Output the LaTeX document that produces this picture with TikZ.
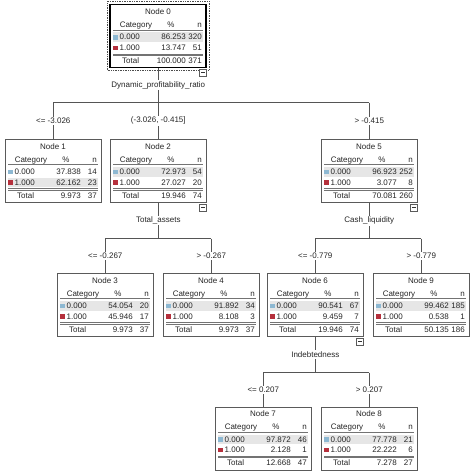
\documentclass[tikz,border=0pt]{standalone}
\usepackage{fontspec}
\setmainfont{Liberation Sans}
\definecolor{cblue}{HTML}{8DB8D2}
\definecolor{cred}{HTML}{B5303C}
\definecolor{hlgray}{HTML}{E6E6E6}
\definecolor{boxgray}{HTML}{5A5A5A}
\definecolor{linegray}{HTML}{555555}
\newcommand\fs{\fontsize{8}{9.6}\selectfont}
\tikzset{
  tbox/.style={draw=boxgray, minimum width=96pt, minimum height=63pt, inner sep=0pt, anchor=north west, line width=0.6pt},
  lbl/.style={fill=white, inner sep=1.2pt, font=\fs, text=black!85},
  conn/.style={draw=linegray, line width=0.7pt},
  txt/.style={inner sep=0pt, font=\fs, text=black!85},
  rulegray/.style={draw=black!55, line width=0.5pt},
  hlfill/.style={fill=hlgray},
}
\newcommand\treebox[9]{%
  \node[tbox] (n#1) at (#2) {};
  \begin{scope}[shift={(n#1.north west)}]
    \fill[hlfill] (3,{28+10.5*#3}) rectangle (93,{37.8+10.5*#3});
    \node[txt,anchor=base] at (48,10) {Node #1};
    \node[txt,anchor=base] at (26,23) {Category};
    \node[txt,anchor=base] at (61,23) {\%};
    \node[txt,anchor=base east] at (92,23) {n};
    \draw[rulegray, line width=0.7pt] (3,25.6) -- (93,25.6);
    \fill[cblue] (3,30.6) rectangle (7.6,35.2);
    \node[txt,anchor=base west] at (9.5,35.5) {0.000};
    \node[txt,anchor=base east] at (76,35.5) {#4};
    \node[txt,anchor=base east] at (92,35.5) {#5};
    \fill[cred] (3,41.1) rectangle (7.6,45.7);
    \node[txt,anchor=base west] at (9.5,46) {1.000};
    \node[txt,anchor=base east] at (76,46) {#6};
    \node[txt,anchor=base east] at (92,46) {#7};
    \draw[rulegray] (3,49.4) -- (93,49.4);
    \draw[rulegray] (3,51) -- (93,51);
    \node[txt,anchor=base west] at (12,59) {Total};
    \node[txt,anchor=base east] at (76,59) {#8};
    \node[txt,anchor=base east] at (92,59) {#9};
  \end{scope}}
\newcommand\minusbox[1]{%
  \begin{scope}[shift={(#1.south east)}]
    \draw[draw=boxgray, fill=white, line width=0.6pt] (-7,1.2) rectangle (0,8.2);
    \draw[draw=black!80, line width=0.6pt] (-5.5,4.7) -- (-1.5,4.7);
  \end{scope}}
\begin{document}
\begin{tikzpicture}[x=1pt,y=-1pt]
\useasboundingbox[fill=white] (0,0) rectangle (474,476);
% nodes
\treebox{0}{110,4.5}{0}{86.253}{320}{13.747}{51}{100.000}{371}
\treebox{1}{5,139}{1}{37.838}{14}{62.162}{23}{9.973}{37}
\treebox{2}{110,139}{0}{72.973}{54}{27.027}{20}{19.946}{74}
\treebox{5}{321,139}{0}{96.923}{252}{3.077}{8}{70.081}{260}
\treebox{3}{57,273}{0}{54.054}{20}{45.946}{17}{9.973}{37}
\treebox{4}{163,273}{0}{91.892}{34}{8.108}{3}{9.973}{37}
\treebox{6}{267,273}{0}{90.541}{67}{9.459}{7}{19.946}{74}
\treebox{9}{373,273}{0}{99.462}{185}{0.538}{1}{50.135}{186}
\treebox{7}{215,406.5}{0}{97.872}{46}{2.128}{1}{12.668}{47}
\treebox{8}{321,406.5}{0}{77.778}{21}{22.222}{6}{7.278}{27}
% root highlight
\begin{scope}[shift={(n0.north west)}]
  \draw[black, line width=1.6pt] (0,0) rectangle (96,63);
  \draw[black!70, densely dotted, line width=0.7pt] (-3,-3) rectangle (99,66);
\end{scope}
% split points
\path (n0.south) ++(0,34.5) coordinate (s0);
\path (n2.south) ++(0,36) coordinate (s2);
\path (n5.south) ++(0,36) coordinate (s5);
\path (n6.south) ++(0,36) coordinate (s6);
% connectors level 1
\draw[conn] (n0.south) -- node[lbl]{Dynamic\_profitability\_ratio} (s0);
\draw[conn] (s0 -| n1.north) -- (s0 -| n5.north);
\draw[conn] (s0 -| n1.north) -- node[lbl]{<= -3.026} (n1.north);
\draw[conn] (s0 -| n2.north) -- node[lbl]{(-3.026, -0.415]} (n2.north);
\draw[conn] (s0 -| n5.north) -- node[lbl]{> -0.415} (n5.north);
% level 2 (node 2)
\draw[conn] (n2.south) -- node[lbl]{Total\_assets} (s2);
\draw[conn] (s2 -| n3.north) -- (s2 -| n4.north);
\draw[conn] (s2 -| n3.north) -- node[lbl]{<= -0.267} (n3.north);
\draw[conn] (s2 -| n4.north) -- node[lbl]{> -0.267} (n4.north);
% level 2 (node 5)
\draw[conn] (n5.south) -- node[lbl]{Cash\_liquidity} (s5);
\draw[conn] (s5 -| n6.north) -- (s5 -| n9.north);
\draw[conn] (s5 -| n6.north) -- node[lbl]{<= -0.779} (n6.north);
\draw[conn] (s5 -| n9.north) -- node[lbl]{> -0.779} (n9.north);
% level 3 (node 6)
\draw[conn] (n6.south) -- node[lbl]{Indebtedness} (s6);
\draw[conn] (s6 -| n7.north) -- (s6 -| n8.north);
\draw[conn] (s6 -| n7.north) -- node[lbl]{<= 0.207} (n7.north);
\draw[conn] (s6 -| n8.north) -- node[lbl]{> 0.207} (n8.north);
% collapse boxes
\minusbox{n0}
\minusbox{n2}
\minusbox{n5}
\minusbox{n6}
\end{tikzpicture}
\end{document}
